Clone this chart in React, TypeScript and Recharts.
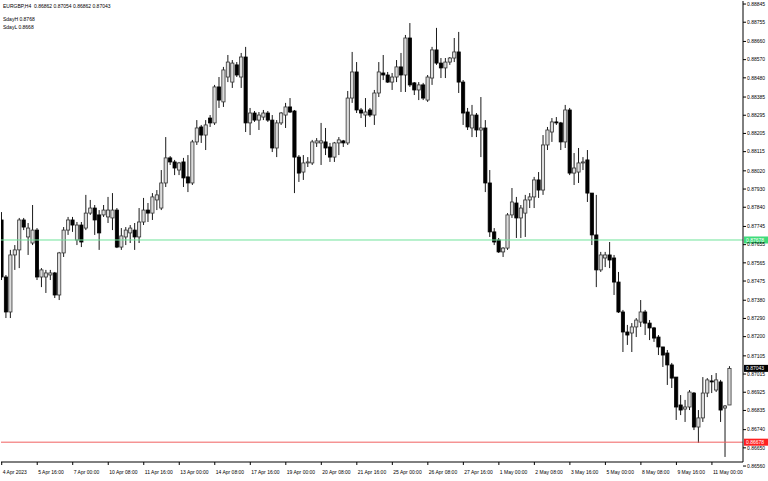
import { ComposedChart, Bar, XAxis, YAxis, ReferenceLine } from 'recharts'

// EURGBP H4 candles
const symbol = 'EURGBP,H4'

const opens = [
  0.87777, 0.87495, 0.87322, 0.87604, 0.87629, 0.87777, 0.87693, 0.87663, 0.87727, 0.87495,
  0.87495, 0.87505, 0.87515, 0.87406, 0.87614, 0.87727, 0.87777, 0.87678, 0.87752, 0.87737,
  0.87811, 0.87836, 0.87802, 0.87802, 0.87792, 0.87787, 0.87826, 0.87643, 0.87693, 0.87713,
  0.87727, 0.87693, 0.87767, 0.87826, 0.87811, 0.87876, 0.87836, 0.8796, 0.88084, 0.88064,
  0.88024, 0.88064, 0.8799, 0.8796, 0.88163, 0.88237, 0.88197, 0.88281, 0.88257, 0.88435,
  0.88361, 0.88484, 0.88459, 0.88544, 0.88484, 0.88583, 0.88257, 0.88306, 0.88271, 0.88286,
  0.88306, 0.88271, 0.88133, 0.88257, 0.88296, 0.88336, 0.88316, 0.88088, 0.88014, 0.88059,
  0.88059, 0.88158, 0.88158, 0.88163, 0.88138, 0.88088, 0.88158, 0.88168, 0.88158, 0.8838,
  0.88509, 0.88321, 0.88296, 0.88321, 0.88296, 0.88405, 0.88504, 0.88494, 0.88459, 0.88484,
  0.88534, 0.88494, 0.88677, 0.88455, 0.8842, 0.88445, 0.8837, 0.88479, 0.88618, 0.88553,
  0.88529, 0.88558, 0.88578, 0.88608, 0.88459, 0.88311, 0.88232, 0.88296, 0.88222, 0.88232,
  0.8796, 0.87718, 0.87678, 0.87619, 0.87638, 0.87802, 0.87861, 0.87787, 0.87811, 0.87876,
  0.87891, 0.87975, 0.87925, 0.88148, 0.88212, 0.88262, 0.88257, 0.88163, 0.88321, 0.88009,
  0.88014, 0.88059, 0.88074, 0.8791, 0.87703, 0.8753, 0.87589, 0.87604, 0.87589, 0.8747,
  0.87322, 0.87223, 0.87218, 0.87248, 0.87272, 0.87322, 0.87267, 0.87243, 0.87198, 0.87149,
  0.87119, 0.8706, 0.87, 0.86862, 0.86842, 0.86852, 0.86921, 0.86753, 0.86798, 0.86921,
  0.86981, 0.86936, 0.86976, 0.86847, 0.86862,
]

const highs = [
  0.87816, 0.87505, 0.87629, 0.87653, 0.87787, 0.87787, 0.87762, 0.87851, 0.87737, 0.87539,
  0.8753, 0.8753, 0.8752, 0.87619, 0.87742, 0.87792, 0.87792, 0.87767, 0.87767, 0.87901,
  0.87876, 0.87851, 0.87826, 0.87851, 0.87891, 0.8791, 0.87836, 0.87737, 0.87742, 0.87752,
  0.87762, 0.87836, 0.87886, 0.87861, 0.8791, 0.87925, 0.88024, 0.88187, 0.88093, 0.88074,
  0.88064, 0.88084, 0.88098, 0.88173, 0.88271, 0.88247, 0.88271, 0.88296, 0.88445, 0.88484,
  0.88534, 0.88593, 0.88568, 0.88558, 0.88603, 0.88633, 0.88331, 0.88316, 0.88311, 0.88321,
  0.88316, 0.88296, 0.88271, 0.88311, 0.88356, 0.8838, 0.88321, 0.88098, 0.88098, 0.88088,
  0.88173, 0.88182, 0.88257, 0.88232, 0.88158, 0.88163, 0.88187, 0.88173, 0.88415, 0.88608,
  0.88558, 0.88331, 0.8838, 0.88331, 0.8842, 0.88558, 0.88593, 0.88509, 0.88504, 0.88568,
  0.88603, 0.88692, 0.88751, 0.88459, 0.88459, 0.88455, 0.88494, 0.88633, 0.88727, 0.88578,
  0.88578, 0.88583, 0.88677, 0.88707, 0.88469, 0.88331, 0.88346, 0.88306, 0.88385, 0.88271,
  0.88024, 0.87737, 0.87688, 0.87643, 0.87811, 0.87935, 0.87891, 0.87851, 0.87901, 0.8791,
  0.8799, 0.88014, 0.88197, 0.88237, 0.88281, 0.88286, 0.88262, 0.88346, 0.88331, 0.88108,
  0.88133, 0.88088, 0.88123, 0.8791, 0.87901, 0.87619, 0.87619, 0.87668, 0.87604, 0.8752,
  0.87332, 0.87258, 0.87267, 0.87292, 0.87381, 0.87332, 0.87282, 0.87248, 0.87208, 0.87149,
  0.87134, 0.8707, 0.87, 0.86911, 0.86887, 0.86936, 0.86926, 0.86837, 0.87, 0.86995,
  0.8701, 0.8702, 0.86986, 0.86862, 0.87054,
]

const lows = [
  0.8748, 0.87292, 0.87292, 0.8753, 0.87539, 0.87727, 0.87604, 0.87653, 0.8748, 0.87445,
  0.87416, 0.8748, 0.87391, 0.87381, 0.87594, 0.87703, 0.87718, 0.87653, 0.87643, 0.87727,
  0.87802, 0.87703, 0.87629, 0.87792, 0.87762, 0.87727, 0.87638, 0.87629, 0.87653, 0.87663,
  0.87629, 0.87663, 0.87752, 0.87767, 0.87777, 0.87826, 0.87826, 0.8794, 0.88049, 0.87999,
  0.87999, 0.8794, 0.87915, 0.8795, 0.88148, 0.88158, 0.88123, 0.88237, 0.88247, 0.88331,
  0.88336, 0.88459, 0.8843, 0.88484, 0.8843, 0.88212, 0.88197, 0.88262, 0.88222, 0.88271,
  0.88262, 0.88113, 0.88088, 0.88247, 0.88232, 0.88306, 0.8791, 0.87965, 0.87975, 0.88039,
  0.88049, 0.88138, 0.88049, 0.88098, 0.88064, 0.88064, 0.88098, 0.88138, 0.88148, 0.88356,
  0.88306, 0.88281, 0.88237, 0.88286, 0.88247, 0.88385, 0.88469, 0.88455, 0.8842, 0.88459,
  0.8841, 0.8841, 0.88435, 0.88395, 0.8837, 0.8837, 0.88361, 0.88445, 0.88544, 0.88479,
  0.88479, 0.88544, 0.88558, 0.88405, 0.88247, 0.88222, 0.88187, 0.88187, 0.88088, 0.87915,
  0.87693, 0.87653, 0.87614, 0.87594, 0.87629, 0.87787, 0.87688, 0.87688, 0.87693, 0.87836,
  0.87836, 0.87886, 0.87901, 0.88123, 0.88163, 0.88247, 0.88123, 0.88133, 0.87999, 0.8795,
  0.8796, 0.88024, 0.87866, 0.87653, 0.87445, 0.8752, 0.87544, 0.87539, 0.87406, 0.87317,
  0.87124, 0.87159, 0.87124, 0.87198, 0.87248, 0.87208, 0.87183, 0.87174, 0.87109, 0.8705,
  0.86961, 0.86946, 0.86788, 0.86812, 0.86778, 0.86837, 0.86738, 0.86674, 0.86778, 0.86901,
  0.86921, 0.86926, 0.86778, 0.86605, 0.86862,
]

const closes = [
  0.87495, 0.87322, 0.87604, 0.87629, 0.87777, 0.87742, 0.87737, 0.87727, 0.87495, 0.8753,
  0.87515, 0.87515, 0.87406, 0.87614, 0.87727, 0.87777, 0.87752, 0.87752, 0.87668, 0.87811,
  0.87836, 0.87777, 0.87713, 0.87826, 0.87826, 0.87826, 0.87643, 0.87698, 0.87727, 0.87737,
  0.87693, 0.87767, 0.87826, 0.87811, 0.87891, 0.87901, 0.8796, 0.88084, 0.88064, 0.88034,
  0.88059, 0.87985, 0.8796, 0.88163, 0.88232, 0.88197, 0.88247, 0.88257, 0.88435, 0.8837,
  0.88519, 0.88558, 0.88553, 0.88494, 0.88583, 0.88257, 0.88306, 0.88271, 0.88296, 0.88306,
  0.88271, 0.88133, 0.88257, 0.88306, 0.88336, 0.88311, 0.88088, 0.88009, 0.88059, 0.88064,
  0.88163, 0.88168, 0.88168, 0.88133, 0.88088, 0.88158, 0.88173, 0.88158, 0.8838, 0.88509,
  0.88321, 0.88306, 0.88311, 0.88296, 0.88405, 0.88509, 0.88494, 0.88459, 0.88484, 0.88534,
  0.88494, 0.88677, 0.88445, 0.8842, 0.88445, 0.8838, 0.88484, 0.88618, 0.88553, 0.88529,
  0.88558, 0.88578, 0.88608, 0.88459, 0.88306, 0.88237, 0.88296, 0.88222, 0.88232, 0.8796,
  0.87718, 0.87668, 0.87619, 0.87638, 0.87802, 0.87866, 0.87787, 0.87836, 0.87876, 0.87891,
  0.87975, 0.87925, 0.88148, 0.88222, 0.88262, 0.88257, 0.88163, 0.88321, 0.88009, 0.88034,
  0.88059, 0.88064, 0.8791, 0.87703, 0.8753, 0.87604, 0.87604, 0.87579, 0.8747, 0.87322,
  0.87223, 0.87208, 0.87248, 0.87282, 0.87322, 0.87267, 0.87243, 0.87193, 0.87149, 0.87109,
  0.8706, 0.86995, 0.86852, 0.86837, 0.86852, 0.86926, 0.86753, 0.86798, 0.86921, 0.86986,
  0.86976, 0.86986, 0.86837, 0.86857, 0.87043,
]

const timeTicks = [0, 8, 16, 24, 32, 40, 48, 56, 64, 72, 80, 88, 96, 104, 112, 120, 128, 136, 144, 152, 160]
const timeLabels = [
  '4 Apr 2023', '5 Apr 16:00', '7 Apr 00:00', '10 Apr 08:00', '11 Apr 16:00', '13 Apr 00:00',
  '14 Apr 08:00', '17 Apr 16:00', '19 Apr 00:00', '20 Apr 08:00', '21 Apr 16:00', '25 Apr 00:00',
  '26 Apr 08:00', '27 Apr 16:00', '1 May 00:00', '2 May 08:00', '3 May 16:00', '5 May 00:00',
  '8 May 08:00', '9 May 16:00', '11 May 00:00',
]

const priceTicks = [
  0.88845, 0.88755, 0.8866, 0.8857, 0.8848, 0.88385, 0.88295, 0.88205, 0.88115, 0.8802,
  0.8793, 0.8784, 0.87745, 0.87655, 0.87565, 0.87475, 0.8738, 0.8729, 0.872, 0.87105,
  0.87015, 0.86925, 0.86835, 0.8674, 0.8665, 0.8656,
]

const sdayHigh = 0.87678
const sdayLow = 0.86678

const candles = opens.map((open, i) => ({
  i,
  open,
  high: highs[i],
  low: lows[i],
  close: closes[i],
}))

const last = candles[candles.length - 1]
const font = '"Liberation Sans", Arial, sans-serif'

function Candle(props: any) {
  const { x, y, width, height, payload } = props
  if (!payload) return null
  const top = Math.min(y, y + height)
  const span = Math.abs(height)
  const { open, high, low, close } = payload
  const range = high - low || 1
  const toY = (v: number) => top + ((high - v) / range) * span
  const cx = x + width / 2
  const yo = toY(open)
  const yc = toY(close)
  const bull = close >= open
  const bodyTop = Math.min(yo, yc)
  const bodyH = Math.max(Math.abs(yc - yo), 0.6)
  return (
    <g>
      <line x1={cx} x2={cx} y1={top} y2={top + span} stroke="#1a1a1a" strokeWidth={1} />
      <rect
        x={cx - 1.6}
        y={bodyTop}
        width={3.2}
        height={bodyH}
        fill={bull ? '#dcdcdc' : '#000'}
        stroke={bull ? '#333' : '#000'}
        strokeWidth={0.8}
      />
    </g>
  )
}

function PriceTag(props: any) {
  const { viewBox, value, fill } = props
  if (!viewBox) return null
  const left = viewBox.x + viewBox.width + 1
  return (
    <g>
      <rect x={left} y={viewBox.y - 3.5} width={24} height={7} fill={fill} />
      <text x={left + 2} y={viewBox.y} dy="0.35em" fontSize={5} fill="#fff" fontFamily={font}>
        {value.toFixed(5)}
      </text>
    </g>
  )
}

function TimeTick(props: any) {
  const { x, y, payload } = props
  const label = timeLabels[timeTicks.indexOf(payload.value)]
  return (
    <text x={x + 1} y={y + 5} dy="0.35em" fontSize={5} fill="#000" fontFamily={font} textAnchor="start">
      {label}
    </text>
  )
}

export default function App() {
  return (
    <div style={{ width: 768, height: 481, position: 'relative', background: '#fff', fontFamily: font }}>
      <style>{'body{margin:0}'}</style>
      <div style={{ position: 'absolute', left: 3, top: 3, fontSize: 5, lineHeight: '6px', color: '#000' }}>
        {symbol}&nbsp;&nbsp;{last.open.toFixed(5)} {last.high.toFixed(5)} {last.low.toFixed(5)} {last.close.toFixed(5)}
      </div>
      <div style={{ position: 'absolute', left: 3, top: 16, fontSize: 5, lineHeight: '6px', color: '#000' }}>
        SdayH {sdayHigh.toFixed(4)}
      </div>
      <div style={{ position: 'absolute', left: 3, top: 24, fontSize: 5, lineHeight: '6px', color: '#000' }}>
        SdayL {sdayLow.toFixed(4)}
      </div>
      <ComposedChart width={768} height={481} data={candles} margin={{ top: 1, right: 0, bottom: 0, left: 1 }}>
        <XAxis
          dataKey="i"
          type="number"
          domain={[-0.16, 167]}
          allowDataOverflow
          ticks={timeTicks}
          interval={0}
          height={19}
          tickSize={3}
          tickLine={{ stroke: '#000' }}
          axisLine={{ stroke: '#000' }}
          tick={<TimeTick />}
        />
        <XAxis xAxisId="top" orientation="top" height={0} tick={false} tickLine={false} axisLine={{ stroke: '#888' }} />
        <YAxis
          orientation="right"
          type="number"
          domain={[0.8658, 0.8886]}
          allowDataOverflow
          ticks={priceTicks}
          interval={0}
          width={25}
          tickSize={3}
          tickMargin={1}
          tickLine={{ stroke: '#000' }}
          axisLine={{ stroke: '#000' }}
          tick={{ fontSize: 5, fill: '#000', fontFamily: font }}
          tickFormatter={(v: number) => v.toFixed(5)}
        />
        <YAxis yAxisId="frame" orientation="left" width={0} tick={false} tickLine={false} axisLine={{ stroke: '#888' }} />
        <Bar
          dataKey={(d: any) => [d.low, d.high]}
          barSize={4}
          shape={<Candle />}
          isAnimationActive={false}
        />
        <ReferenceLine
          y={sdayHigh}
          stroke="#6fe39a"
          strokeWidth={1}
          label={(p: any) => <PriceTag {...p} value={sdayHigh} fill="#3fdc7a" />}
        />
        <ReferenceLine
          y={sdayLow}
          stroke="#f06060"
          strokeWidth={1}
          label={(p: any) => <PriceTag {...p} value={sdayLow} fill="#ff2020" />}
        />
        <ReferenceLine
          y={last.close}
          stroke="none"
          label={(p: any) => <PriceTag {...p} value={last.close} fill="#000" />}
        />
      </ComposedChart>
    </div>
  )
}
